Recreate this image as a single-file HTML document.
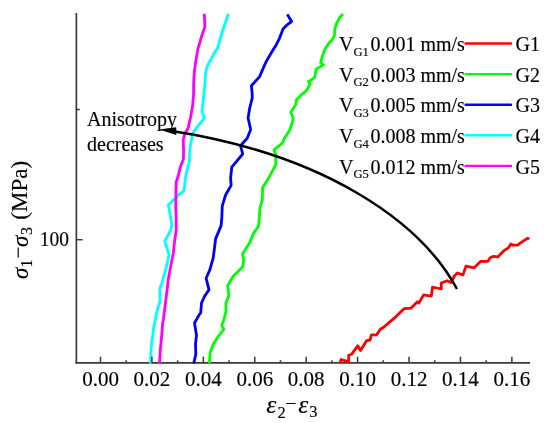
<!DOCTYPE html>
<html><head><meta charset="utf-8"><style>
html,body{margin:0;padding:0;background:#fff;}
svg{display:block;}
text{font-family:"Liberation Serif","Times New Roman",serif;fill:#000;stroke:#000;stroke-width:0.15px;}
</style></head><body>
<svg width="550" height="423" viewBox="0 0 550 423">
<rect width="550" height="423" fill="#fff"/>
<g stroke="#3a3a3a" stroke-width="1.7" fill="none">
<line x1="76.35" y1="13" x2="76.35" y2="363.5"/>
<line x1="75.5" y1="362.85" x2="530" y2="362.85"/>
</g>
<polyline points="340,363.4 341.1,359.5 347.3,361.4 348.7,362.4 348.7,355.3 351.5,354.3 357.7,345.8 360.5,350.5 366.7,340.6 370,340.1 371.4,334.9 376.5,334.9 380.6,329 383,327.8 396,316.6 403.7,308.9 406.6,308.3 410.8,308.3 416.7,302.4 417.5,301.8 418.9,303.1 423.6,294.9 431.3,296.1 432.5,287.2 441.3,289 441.3,283 447.2,280.7 450.8,282.5 454.3,276 457.3,273 463,274.9 466,266.1 474.2,267.8 480.7,261.3 487.8,261.3 490.2,257.8 493.5,256.3 497.7,256.9 504.2,250.4 508.3,248 510.9,244 513,245.2 517.8,245.1 519.5,243.7 527.7,238.2 529.2,239.2" fill="none" stroke="#ff0000" stroke-width="2.8" stroke-linejoin="round" stroke-linecap="butt"/>
<polyline points="209.4,363.6 210.1,352.9 213.4,343.8 218.6,336 223.8,329.5 221.8,325.6 224,319.1 226,311.3 226,303 228.8,295.6 227.7,285.6 233,276.5 237.1,272.4 242.9,266.6 243.7,260 242.6,253.7 249.6,243 253.7,233.1 258.7,225.6 260,208.2 262.3,200 262.6,187.5 268.2,178.8 273.2,169.7 275.7,164.8 275.7,154 274,149.9 282.3,143.2 284.8,137.4 286.6,135 289.8,130 292.4,122.1 293.2,118 290.8,112.2 295.7,104.7 296.5,99.8 301.5,94.8 306.5,90.6 310.1,84 308.5,81.5 311.4,79.9 314.8,77.4 316.1,69.1 323.5,64.8 320.7,62.9 322.3,56.3 324.8,49.6 329,43 332.3,39.7 334.4,35.6 334.8,29 336.4,24 339.7,17.4 343,14.1" fill="none" stroke="#00ff00" stroke-width="2.8" stroke-linejoin="round" stroke-linecap="butt"/>
<polyline points="193.7,363.6 195.8,354.2 195.5,343.8 196.5,335.3 194.5,323 199.7,313.9 200.7,313 201.5,303 204.5,296.4 209,289.8 206.1,278.2 209.8,269.9 211.2,265 213.2,257.9 214.5,248 215.6,238.9 221.1,225.6 221.8,218.2 222.3,205.8 225.6,195 227.3,192 231.1,185.4 230.6,178 231.8,167.2 237.2,160.6 242.7,154 240.5,145.7 247.2,138.3 250.5,130 250.5,128.7 248.1,118 249.7,108 252.2,98.1 252.2,94 251.4,85.7 259.6,76.6 264.6,65 266.4,61.2 272.2,51.3 276.3,44.7 279.6,38.1 283,29 287.1,24.8 291.6,21.5 288.2,15.7 287.1,14.6" fill="none" stroke="#0000ff" stroke-width="2.8" stroke-linejoin="round" stroke-linecap="butt"/>
<polyline points="150.4,363.6 151.3,346.2 152.1,340 153.1,333.1 153.5,328.2 155.3,320 156.3,314 159.9,301.3 159.9,288.5 162,283.2 162.7,280 166.2,267.6 169.1,254.8 164.8,241.3 170.5,230.7 171.9,225 169.8,212.6 168.4,204.8 175.5,198.4 178.2,195 183.4,191.4 184.4,188.1 185.3,178.6 187.7,167.3 189.6,160.7 189.2,157.3 190.2,147.3 192.9,133.1 196.8,127.6 204.3,118 202.1,111.6 203.2,99.9 204.9,85 205.7,72.3 207.4,66 214.9,52.1 217.7,47.9 222.3,31.9 228.3,13.8" fill="none" stroke="#00ffff" stroke-width="2.8" stroke-linejoin="round" stroke-linecap="butt"/>
<polyline points="159.5,363.6 160.4,349.1 161.3,340 161.8,334.5 162.7,322.6 163.3,320 164.8,308.4 166.9,291.3 167.7,285 168.1,280 170.5,267.6 173.3,253.4 174.8,239.2 176.3,230 176.2,225 176.2,216.8 175.7,206.9 175.9,195.5 176.2,182.4 178.3,175.5 180.2,167.5 183.4,159 183.6,150 183.2,140 184.6,134.5 188.3,127.6 190.4,118 192.6,106.3 193.6,93.5 193.6,85 194.3,72.3 195.7,61.7 197.9,48.9 201,38.3 204.9,26.6 204.3,13.8" fill="none" stroke="#ff00ff" stroke-width="2.8" stroke-linejoin="round" stroke-linecap="butt"/>

<path d="M457,289 C419.79,220.04 322.89,154.53 172,131" fill="none" stroke="#000" stroke-width="2.5"/>
<polygon points="159,129.4 176.2,127.3 176.4,134.9" fill="#000"/>
<line x1="100.50" y1="362.85" x2="100.50" y2="356.65" stroke="#3a3a3a" stroke-width="1.5"/>
<line x1="126.21" y1="362.85" x2="126.21" y2="360.25" stroke="#3a3a3a" stroke-width="1.5"/>
<line x1="151.92" y1="362.85" x2="151.92" y2="356.65" stroke="#3a3a3a" stroke-width="1.5"/>
<line x1="177.63" y1="362.85" x2="177.63" y2="360.25" stroke="#3a3a3a" stroke-width="1.5"/>
<line x1="203.34" y1="362.85" x2="203.34" y2="356.65" stroke="#3a3a3a" stroke-width="1.5"/>
<line x1="229.05" y1="362.85" x2="229.05" y2="360.25" stroke="#3a3a3a" stroke-width="1.5"/>
<line x1="254.76" y1="362.85" x2="254.76" y2="356.65" stroke="#3a3a3a" stroke-width="1.5"/>
<line x1="280.47" y1="362.85" x2="280.47" y2="360.25" stroke="#3a3a3a" stroke-width="1.5"/>
<line x1="306.18" y1="362.85" x2="306.18" y2="356.65" stroke="#3a3a3a" stroke-width="1.5"/>
<line x1="331.89" y1="362.85" x2="331.89" y2="360.25" stroke="#3a3a3a" stroke-width="1.5"/>
<line x1="357.60" y1="362.85" x2="357.60" y2="356.65" stroke="#3a3a3a" stroke-width="1.5"/>
<line x1="383.31" y1="362.85" x2="383.31" y2="360.25" stroke="#3a3a3a" stroke-width="1.5"/>
<line x1="409.02" y1="362.85" x2="409.02" y2="356.65" stroke="#3a3a3a" stroke-width="1.5"/>
<line x1="434.73" y1="362.85" x2="434.73" y2="360.25" stroke="#3a3a3a" stroke-width="1.5"/>
<line x1="460.44" y1="362.85" x2="460.44" y2="356.65" stroke="#3a3a3a" stroke-width="1.5"/>
<line x1="486.15" y1="362.85" x2="486.15" y2="360.25" stroke="#3a3a3a" stroke-width="1.5"/>
<line x1="511.86" y1="362.85" x2="511.86" y2="356.65" stroke="#3a3a3a" stroke-width="1.5"/>

<line x1="76.3" y1="109.5" x2="79.8" y2="109.5" stroke="#3a3a3a" stroke-width="1.5"/>
<line x1="76.3" y1="239.7" x2="82.5" y2="239.7" stroke="#3a3a3a" stroke-width="1.5"/>
<g font-size="21">
<text x="100.50" y="386" text-anchor="middle">0.00</text>
<text x="151.92" y="386" text-anchor="middle">0.02</text>
<text x="203.34" y="386" text-anchor="middle">0.04</text>
<text x="254.76" y="386" text-anchor="middle">0.06</text>
<text x="306.18" y="386" text-anchor="middle">0.08</text>
<text x="357.60" y="386" text-anchor="middle">0.10</text>
<text x="409.02" y="386" text-anchor="middle">0.12</text>
<text x="460.44" y="386" text-anchor="middle">0.14</text>
<text x="511.86" y="386" text-anchor="middle">0.16</text>

<text transform="translate(69.1,246.4) scale(0.93,1)" text-anchor="end">100</text>
</g>
<g font-size="20">
<text x="339" y="50.90">V<tspan font-size="12.6" dy="4.9">G1</tspan><tspan dy="-4.9" dx="1.6">0.001 mm/s</tspan></text>
<line x1="465.6" y1="43.50" x2="511" y2="43.50" stroke="#ff0000" stroke-width="2.4" stroke-linecap="round"/>
<text x="515.5" y="50.90">G1</text>
<text x="339" y="81.55">V<tspan font-size="12.6" dy="4.9">G2</tspan><tspan dy="-4.9" dx="1.6">0.003 mm/s</tspan></text>
<line x1="465.6" y1="74.10" x2="511" y2="74.10" stroke="#00ff00" stroke-width="2.4" stroke-linecap="round"/>
<text x="515.5" y="81.55">G2</text>
<text x="339" y="112.20">V<tspan font-size="12.6" dy="4.9">G3</tspan><tspan dy="-4.9" dx="1.6">0.005 mm/s</tspan></text>
<line x1="465.6" y1="104.70" x2="511" y2="104.70" stroke="#0000ff" stroke-width="2.4" stroke-linecap="round"/>
<text x="515.5" y="112.20">G3</text>
<text x="339" y="142.85">V<tspan font-size="12.6" dy="4.9">G4</tspan><tspan dy="-4.9" dx="1.6">0.008 mm/s</tspan></text>
<line x1="465.6" y1="135.30" x2="511" y2="135.30" stroke="#00ffff" stroke-width="2.4" stroke-linecap="round"/>
<text x="515.5" y="142.85">G4</text>
<text x="339" y="173.50">V<tspan font-size="12.6" dy="4.9">G5</tspan><tspan dy="-4.9" dx="1.6">0.012 mm/s</tspan></text>
<line x1="465.6" y1="165.90" x2="511" y2="165.90" stroke="#ff00ff" stroke-width="2.4" stroke-linecap="round"/>
<text x="515.5" y="173.50">G5</text>

<text x="87" y="125.6">Anisotropy</text>
<text x="87" y="151.1">decreases</text>
</g>
<text x="266.2" y="412.7" font-size="25.5" font-style="italic">ε</text>
<text x="277.4" y="417.5" font-size="16.5">2</text>
<text x="285.3" y="409.8" font-size="20">−</text>
<text x="298.2" y="412.5" font-size="25.5" font-style="italic">ε</text>
<text x="309.2" y="417.2" font-size="16.5">3</text>

<text transform="translate(27.6,279) rotate(-90)" font-size="23" font-style="italic">σ</text>
<text transform="translate(31.8,267.5) rotate(-90)" font-size="16" font-style="normal">1</text>
<text transform="translate(25.1,258.6) rotate(-90)" font-size="21" font-style="normal">−</text>
<text transform="translate(27.6,246.9) rotate(-90)" font-size="23" font-style="italic">σ</text>
<text transform="translate(31.8,235.0) rotate(-90)" font-size="16" font-style="normal">3</text>
<text transform="translate(27.0,219.7) rotate(-90)" font-size="23" font-style="normal">(MPa)</text>

</svg>
</body></html>
